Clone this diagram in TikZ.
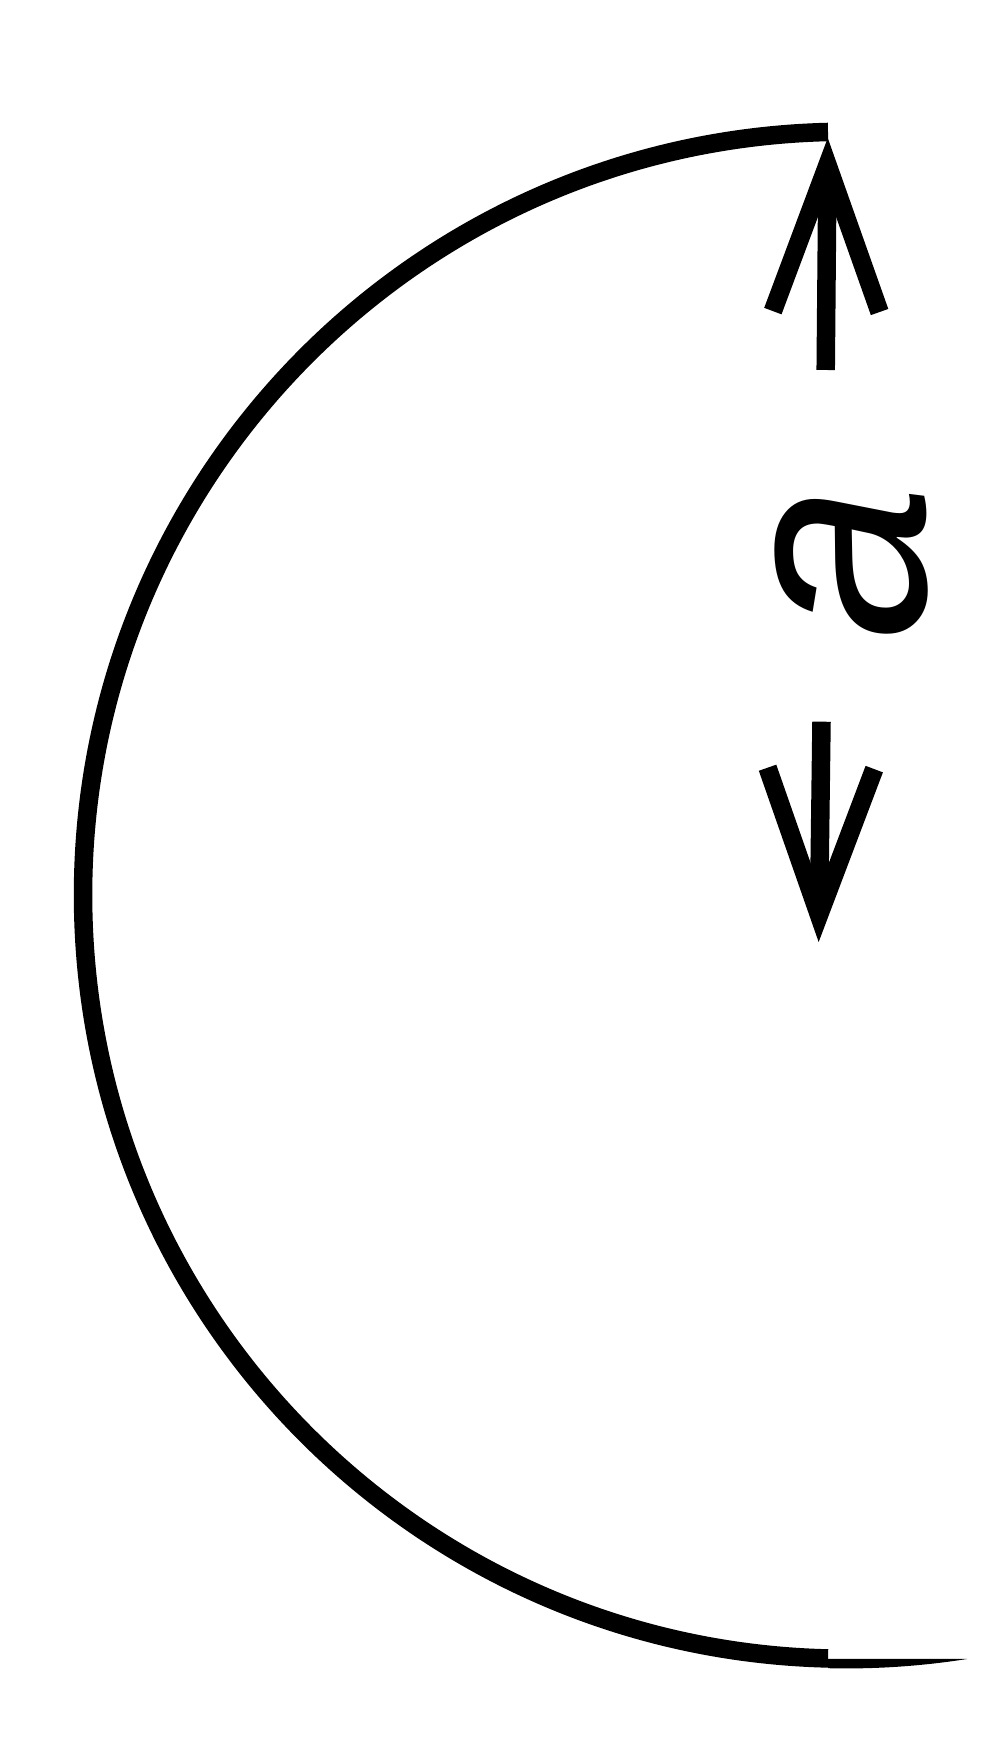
\documentclass[tikz,border=0pt]{standalone}
\usepackage{fontspec}
\setmainfont{Liberation Sans}
\usetikzlibrary{calc}
\begin{document}
\begin{tikzpicture}[x=0.5pt,y=0.5pt,
  heavy/.style={line width=9.25pt, line cap=butt, line join=miter},
  lbl/.style={rotate=90, inner sep=0pt, font=\fontsize{140}{140}\selectfont\itshape}]
\useasboundingbox (0,0) rectangle (996,1751);
% main arc
\coordinate (arcTop) at (828,1619);
\coordinate (arcBot) at (828,92);
\coordinate (tail) at (967,92);
\draw[heavy] (arcTop) arc[start angle=91.39, end angle=268.61, radius=381.75pt];
\fill (tail) arc[start angle=278.97, end angle=268.63, radius=386.375pt] -- (arcBot) -- cycle;
% upper dimension arrow
\coordinate (upV) at (827.5,1586);
\coordinate (upS) at (825.7,1381);
\draw[heavy] (upS) -- (upV);
\draw[heavy] ($(upV)!78pt!20:(upS)$) -- (upV) -- ($(upV)!78pt!-20:(upS)$);
% lower dimension arrow
\coordinate (dnV) at (819,836);
\coordinate (dnS) at (821.5,1029.3);
\draw[heavy] (dnS) -- (dnV);
\draw[heavy] ($(dnV)!78pt!20:(dnS)$) -- (dnV) -- ($(dnV)!78pt!-20:(dnS)$);
% label
\node[lbl] (a) at (852,1188) {a};
\end{tikzpicture}
\end{document}
